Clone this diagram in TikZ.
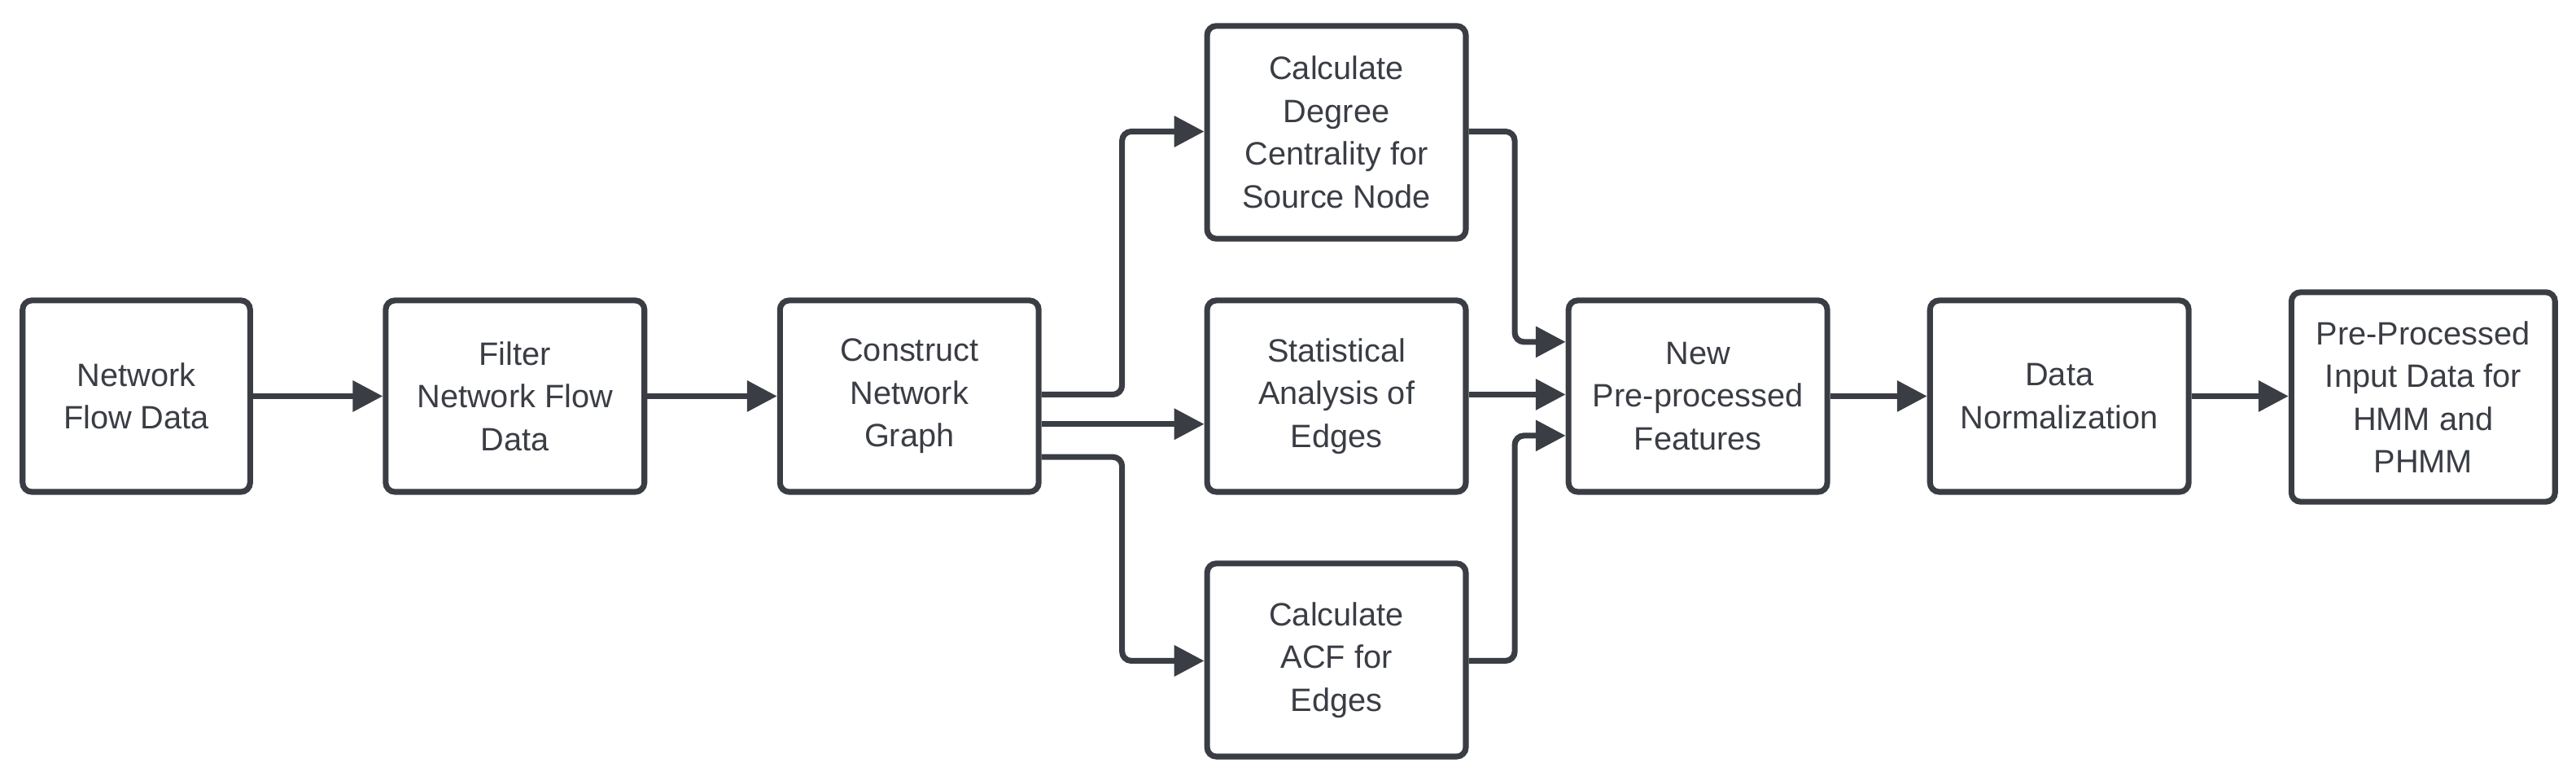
\documentclass[tikz,border=0pt]{standalone}
\usepackage{fontspec}
\setmainfont{Liberation Sans}
\usetikzlibrary{arrows.meta}
\definecolor{ink}{HTML}{3A3D44}
\begin{document}
\begin{tikzpicture}[x=0.05cm,y=-0.05cm,
  box/.style={draw=ink,line width=5pt,rounded corners=8pt,fill=white,align=center,text=ink,
    font=\fontsize{28}{37}\selectfont,inner sep=0pt},
  arr/.style={draw=ink,line width=5pt,rounded corners=8pt,-{Triangle[length=26pt,width=26pt]}}]
\useasboundingbox (0,0) rectangle (1568,475);
\newcommand{\bx}[6]{\node[box,minimum width=#4*0.05cm-5pt,minimum height=#5*0.05cm-5pt] (#1) at (#2,#3) {#6};}
\bx{a}{83}{241}{142}{120}{Network\\Flow Data}
\bx{b}{313.5}{241}{161}{120}{Filter\\Network Flow\\Data}
\bx{c}{553.5}{241}{161}{120}{Construct\\Network\\Graph}
\bx{d}{813.5}{80.5}{161}{133}{Calculate\\Degree\\Centrality for\\Source Node}
\bx{e}{813.5}{241}{161}{120}{Statistical\\Analysis of\\Edges}
\bx{f}{813.5}{401.5}{161}{121}{Calculate\\ACF for\\Edges}
\bx{g}{1033.5}{241}{161}{120}{New\\Pre-processed\\Features}
\bx{h}{1253.5}{241}{161}{120}{Data\\Normalization}
\bx{i}{1475}{241.5}{164}{131}{Pre-Processed\\Input Data for\\HMM and\\PHMM}
\draw[arr] (a.east) -- (b.west);
\draw[arr] (b.east) -- (c.west);
\draw[arr] (c.east |- 0,240) -| (683,80) -- (d.west |- 0,80);
\draw[arr] (c.east |- 0,258) -- (e.west |- 0,258);
\draw[arr] (c.east |- 0,278) -| (683,402) -- (f.west |- 0,402);
\draw[arr] (d.east |- 0,80) -| (922,208) -- (g.west |- 0,208);
\draw[arr] (e.east |- 0,240) -- (g.west |- 0,240);
\draw[arr] (f.east |- 0,402) -| (922,265) -- (g.west |- 0,265);
\draw[arr] (g.east) -- (h.west);
\draw[arr] (h.east) -- (i.west |- 0,241);
\end{tikzpicture}
\end{document}
